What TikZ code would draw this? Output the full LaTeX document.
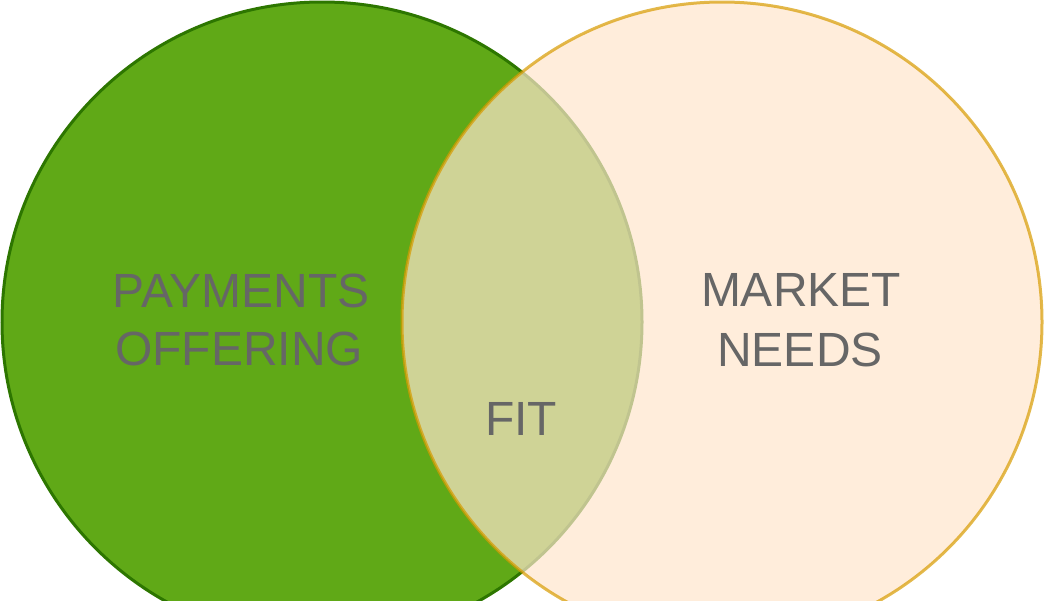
\documentclass[tikz,border=0pt]{standalone}
\usepackage{fontspec}
\setmainfont{Liberation Sans}
\definecolor{offergreen}{HTML}{60A917}
\definecolor{offerstroke}{HTML}{2D7600}
\definecolor{marketfill}{HTML}{FFE6CC}
\definecolor{marketstroke}{HTML}{D79B00}
\definecolor{labelgray}{HTML}{666666}
\begin{document}
\begin{tikzpicture}[x=1pt,y=-1pt,
  lbl/.style={text=labelgray, font=\fontsize{48}{58}\selectfont, inner sep=0pt, anchor=base},
  offer/.style={fill=offergreen, draw=offerstroke, line width=3pt},
  market/.style={fill=marketfill, fill opacity=0.7, draw=marketstroke, draw opacity=0.7, line width=3pt}]
\useasboundingbox (0,0) rectangle (1044,600);
\draw[offer] (322,322) circle[radius=320];
\draw[market] (722,322) circle[radius=320];
\node[lbl] (pay) at (241,307) {PAYMENTS};
\node[lbl] (off) at (239,365) {OFFERING};
\node[lbl] (mkt) at (801,306) {MARKET};
\node[lbl] (need) at (800,366) {NEEDS};
\node[lbl] (fit) at (521,435) {FIT};
\end{tikzpicture}
\end{document}
